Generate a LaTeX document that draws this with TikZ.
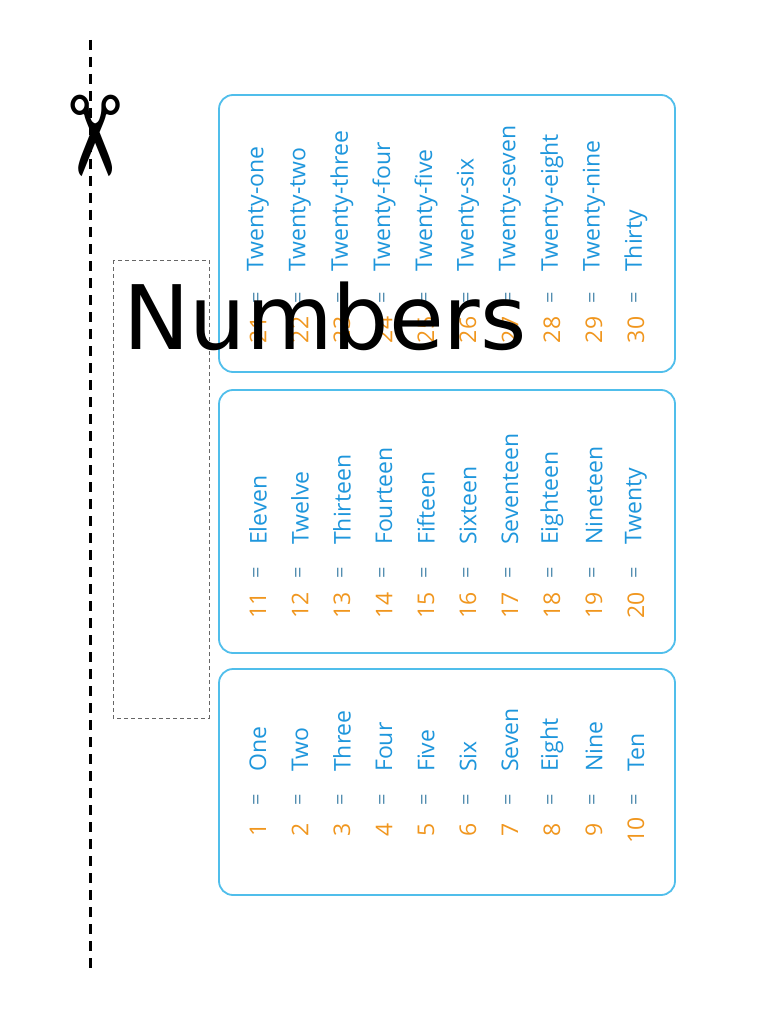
\documentclass[tikz,border=0pt]{standalone}
\usepackage{fontspec}
\setmainfont{Open Sans}
\newfontfamily\dvs{DejaVu Sans}
\definecolor{wblue}{RGB}{30,150,220}
\definecolor{norange}{RGB}{240,150,30}
\definecolor{bline}{RGB}{80,190,235}
\begin{document}
\begin{tikzpicture}[x=1pt,y=-1pt,
  card/.style={draw=bline,line width=1.8pt,rounded corners=14pt},
  word/.style={rotate=90,anchor=west,text=wblue,font=\fontsize{23}{23}\selectfont,inner sep=0pt},
  num/.style={rotate=90,anchor=center,text=norange,font=\fontsize{23}{23}\selectfont,inner sep=0pt},
  eqs/.style={rotate=90,anchor=center,text=wblue!50!gray,font=\fontsize{20}{20}\selectfont,inner sep=0pt}]
\useasboundingbox (0,0) rectangle (768,1024);
\coordinate (ctop) at (90,40);
\coordinate (cbot) at (90,970);
\draw[line width=3pt,dash pattern=on 10pt off 7pt] (ctop) -- (cbot);
\node (sc) at (88,137) {\dvs\fontsize{110}{110}\selectfont\rotatebox{-90}{✂}};
\draw[gray!80!black,line width=0.8pt,dash pattern=on 4pt off 3pt] (113,260) rectangle (209,718);
\draw[card] (219,95) rectangle (675,372);
\draw[card] (219,390) rectangle (675,653);
\draw[card] (219,669) rectangle (675,895);
\foreach \w [count=\i] in {One,Two,Three,Four,Five,Six,Seven,Eight,Nine,Ten}{
  \pgfmathsetmacro{\xx}{216+42*\i}
  \node[num] (n\i) at (\xx,830) {\i};
  \node[eqs] (e\i) at (\xx,800) {=};
  \node[word] (w\i) at (\xx,772) {\w};
}
\foreach \w [count=\i] in {Eleven,Twelve,Thirteen,Fourteen,Fifteen,Sixteen,Seventeen,Eighteen,Nineteen,Twenty}{
  \pgfmathsetmacro{\xx}{216+42*\i}
  \pgfmathtruncatemacro{\nn}{10+\i}
  \node[num] (m\i) at (\xx,605) {\nn};
  \node[eqs] (f\i) at (\xx,573) {=};
  \node[word] (v\i) at (\xx,545) {\w};
}
\foreach \w [count=\i] in {Twenty-one,Twenty-two,Twenty-three,Twenty-four,Twenty-five,Twenty-six,Twenty-seven,Twenty-eight,Twenty-nine,Thirty}{
  \pgfmathsetmacro{\xx}{216+42*\i}
  \pgfmathtruncatemacro{\nn}{20+\i}
  \node[num] (k\i) at (\xx,330) {\nn};
  \node[eqs] (g\i) at (\xx,298) {=};
  \node[word] (u\i) at (\xx,272) {\w};
}
\node[font=\dvs\fontsize{89}{89}\selectfont] (title) at (325,316) {Numbers};
\end{tikzpicture}
\end{document}
